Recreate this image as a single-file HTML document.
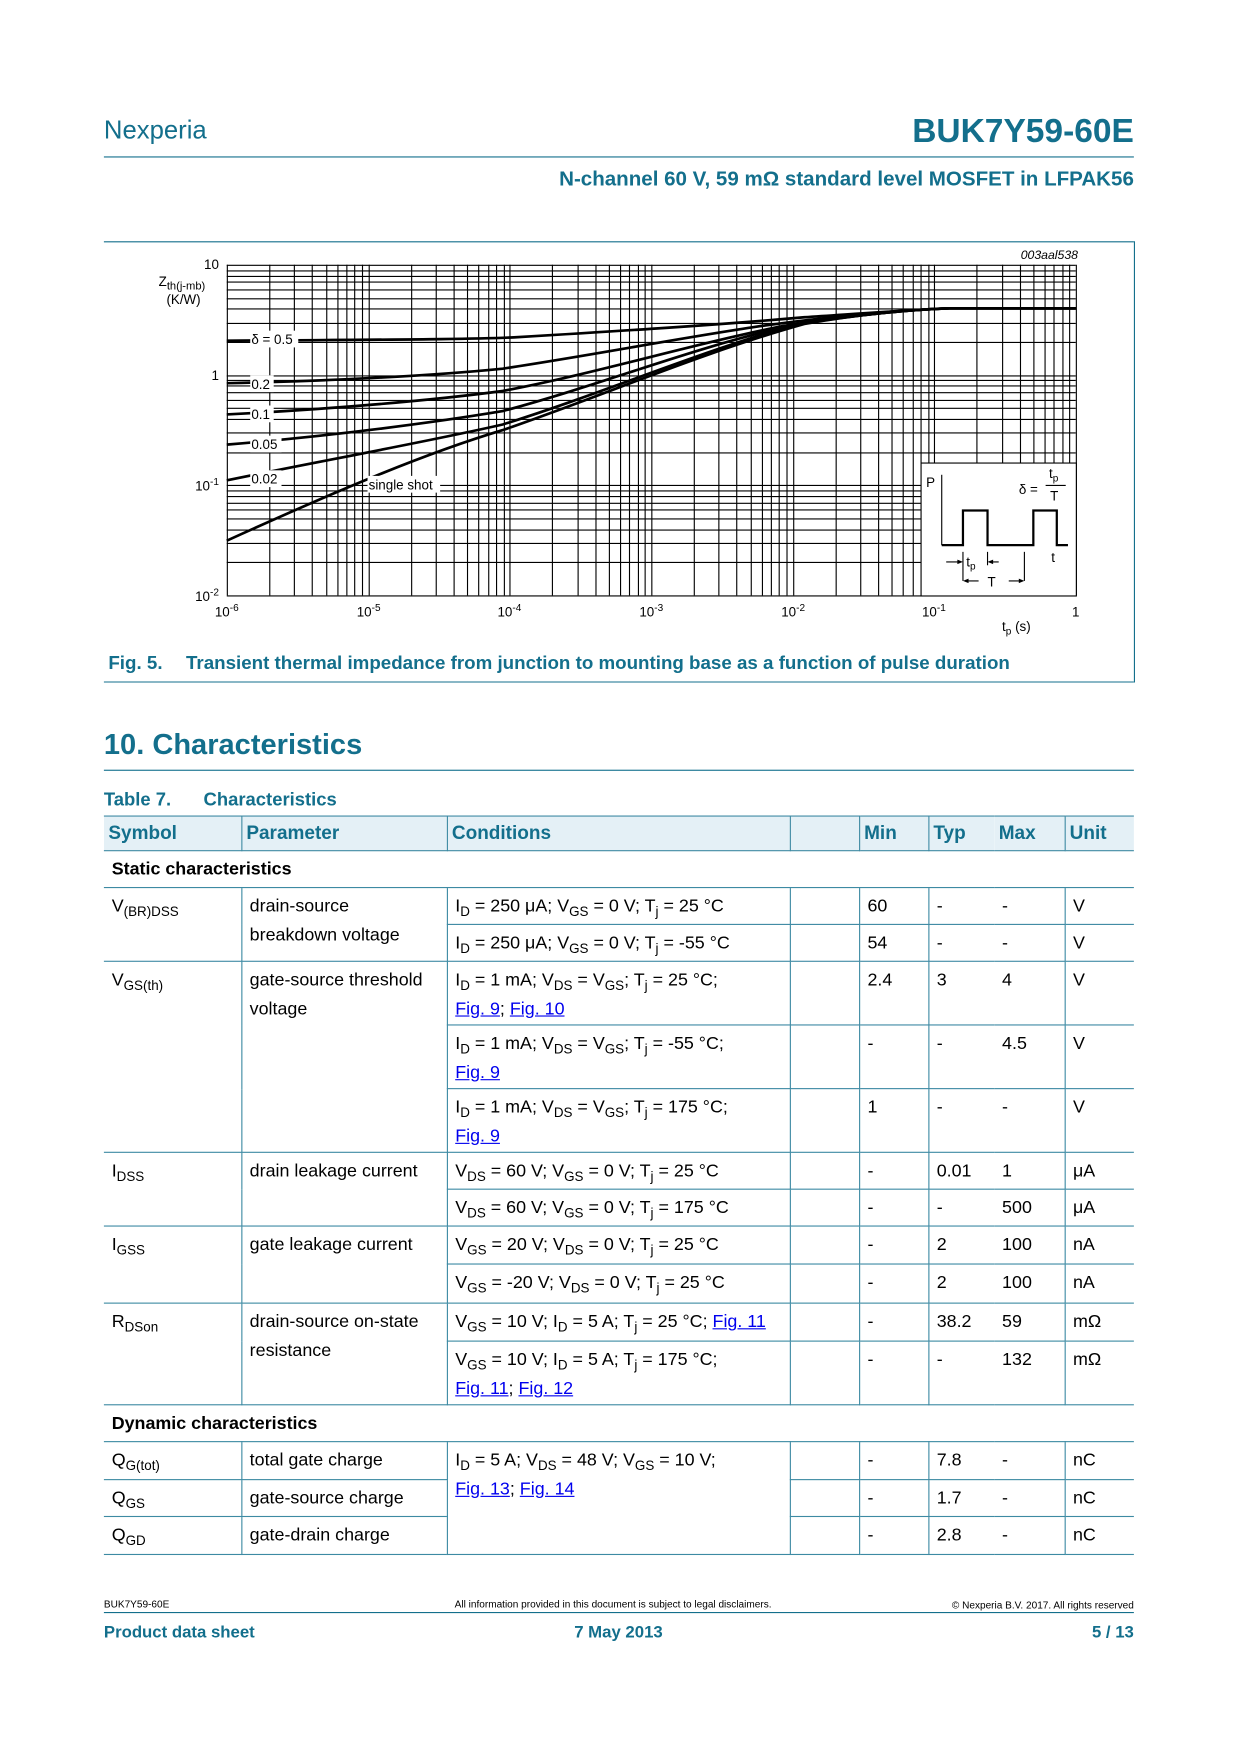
<!DOCTYPE html>
<html><head><meta charset="utf-8"><style>
body{margin:0;background:#fff;}
#pg{position:absolute;left:0;top:0;width:1110px;height:1570px;transform:scale(1.11712);transform-origin:0 0;font-family:"Liberation Sans",sans-serif;color:#000;overflow:hidden}
.a{position:absolute;white-space:nowrap}
.teal{color:#136f8c}
table{position:absolute;left:93px;top:730px;width:922px;border-collapse:collapse;table-layout:fixed;font-size:16px}
td{border:1px solid #3d8aa3;vertical-align:top;padding:4px 0 0 7px;line-height:26px;overflow:hidden}
tr.h td{background:#e4f0f6;color:#136f8c;font-weight:bold;font-size:17px;padding:2px 0 0 4px;border-color:#3d8aa3}
td.nl{border-left:none}td.nr{border-right:none}
a{color:#0000ee;text-decoration:underline}
sub{font-size:12px;vertical-align:-4px;line-height:0}
.sec td{font-weight:bold;border-left:none;border-right:none}
</style></head><body><div id="pg">
<div class="a teal" style="left:93px;top:103px;font-size:23px">Nexperia</div>
<div class="a teal" style="right:95px;top:101px;font-size:30px;font-weight:bold">BUK7Y59-60E</div>
<div class="a" style="left:93px;top:140px;width:922px;height:1px;background:#136f8c"></div>
<div class="a teal" style="right:95px;top:149px;font-size:18.4px;font-weight:bold">N-channel 60 V, 59 mΩ standard level MOSFET in LFPAK56</div>

<svg class="a" style="left:0;top:0" width="1110" height="620" font-family="Liberation Sans, sans-serif">
<line x1="93" y1="216.5" x2="1015" y2="216.5" stroke="#136f8c"/>
<line x1="1015.5" y1="216" x2="1015.5" y2="611" stroke="#136f8c"/>
<line x1="93" y1="610.5" x2="1015" y2="610.5" stroke="#136f8c"/>
<g id="grid" stroke="#000" stroke-width="1"></g>
<g id="curves" fill="none" stroke="#000" stroke-width="2.4"></g>
<g font-size="12" fill="#000">
<text x="965" y="232" text-anchor="end" font-style="italic" font-size="11">003aal538</text>
<text x="196" y="241" text-anchor="end">10</text>
<text x="196" y="340" text-anchor="end">1</text>
<text x="196" y="439" text-anchor="end">10<tspan dy="-5" font-size="9">-1</tspan></text>
<text x="196" y="538" text-anchor="end">10<tspan dy="-5" font-size="9">-2</tspan></text>
<text x="142" y="256">Z<tspan dy="3" font-size="10">th(j-mb)</tspan></text>
<text x="149" y="272">(K/W)</text>
<g text-anchor="middle">
<text x="203" y="552">10<tspan dy="-5" font-size="9">-6</tspan></text>
<text x="330" y="552">10<tspan dy="-5" font-size="9">-5</tspan></text>
<text x="456" y="552">10<tspan dy="-5" font-size="9">-4</tspan></text>
<text x="583" y="552">10<tspan dy="-5" font-size="9">-3</tspan></text>
<text x="710" y="552">10<tspan dy="-5" font-size="9">-2</tspan></text>
<text x="836" y="552">10<tspan dy="-5" font-size="9">-1</tspan></text>
<text x="963" y="552">1</text>
</g>
<text x="897" y="565">t<tspan dy="3" font-size="9">p</tspan><tspan dy="-3"> (s)</tspan></text>
</g>
<g font-size="12">
<rect x="224" y="296" width="43" height="15" fill="#fff"/><text x="225" y="308">δ = 0.5</text>
<rect x="224" y="336" width="21" height="15" fill="#fff"/><text x="225" y="348">0.2</text>
<rect x="224" y="363" width="21" height="15" fill="#fff"/><text x="225" y="375">0.1</text>
<rect x="224" y="390" width="28" height="15" fill="#fff"/><text x="225" y="402">0.05</text>
<rect x="224" y="421" width="28" height="15" fill="#fff"/><text x="225" y="433">0.02</text>
<rect x="329" y="426" width="65" height="15" fill="#fff"/><text x="330" y="438">single shot</text>
</g>
<rect x="824.5" y="414.5" width="139" height="119" fill="#fff" stroke="#000"/>
<g font-size="12" fill="#000">
<text x="829" y="436">P</text>
<text x="912" y="442">δ =</text>
<text x="939" y="428">t<tspan dy="3" font-size="9">p</tspan></text>
<line x1="936" y1="434.5" x2="954" y2="434.5" stroke="#000"/>
<text x="940" y="448">T</text>
<line x1="843" y1="425" x2="843" y2="488" stroke="#000"/>
<polyline points="843,488 862,488 862,457 884,457 884,488 925,488 925,457 946,457 946,488 956,488" fill="none" stroke="#000" stroke-width="2"/>
<text x="941" y="503">t</text>
<text x="865" y="507">t<tspan dy="3" font-size="9">p</tspan></text>
<line x1="862" y1="494" x2="862" y2="520" stroke="#000"/>
<line x1="884" y1="494" x2="884" y2="506" stroke="#000"/>
<line x1="917" y1="494" x2="917" y2="520" stroke="#000"/>
<path d="M847 503h13M894 503h-8M866 520h10M903 520h12" stroke="#000"/>
<path d="M862 503l-5-2v4zM884 503l5-2v4zM862 520l5-2v4zM917 520l-5-2v4z" fill="#000"/>
<text x="884" y="525">T</text>
</g>
</svg>
<div class="a teal" style="left:97px;top:584px;font-size:16.8px;font-weight:bold">Fig. 5.<span style="margin-left:21px">Transient thermal impedance from junction to mounting base as a function of pulse duration</span></div>

<div class="a teal" style="left:93px;top:651px;font-size:26px;font-weight:bold">10. Characteristics</div>
<div class="a" style="left:93px;top:689px;width:922px;height:1px;background:#136f8c"></div>
<div class="a teal" style="left:93px;top:707px;font-size:16.5px;font-weight:bold">Table 7.<span style="margin-left:29px">Characteristics</span></div>

<table>
<colgroup><col style="width:123px"><col style="width:184px"><col style="width:307px"><col style="width:62px"><col style="width:62px"><col style="width:59px"><col style="width:63px"><col style="width:62px"></colgroup>
<tr class="h" style="height:31px"><td class="nl">Symbol</td><td>Parameter</td><td>Conditions</td><td></td><td>Min</td><td class="nr">Typ</td><td class="nl">Max</td><td class="nr">Unit</td></tr>
<tr class="sec" style="height:33px"><td colspan="8">Static characteristics</td></tr>
<tr style="height:33px"><td class="nl" rowspan="2">V<sub>(BR)DSS</sub></td><td rowspan="2">drain-source<br>breakdown voltage</td><td>I<sub>D</sub> = 250 μA; V<sub>GS</sub> = 0 V; T<sub>j</sub> = 25 °C</td><td></td><td>60</td><td class="nr">-</td><td class="nl">-</td><td class="nr">V</td></tr>
<tr style="height:33px"><td>I<sub>D</sub> = 250 μA; V<sub>GS</sub> = 0 V; T<sub>j</sub> = -55 °C</td><td></td><td>54</td><td class="nr">-</td><td class="nl">-</td><td class="nr">V</td></tr>
<tr style="height:57px"><td class="nl" rowspan="3">V<sub>GS(th)</sub></td><td rowspan="3">gate-source threshold voltage</td><td>I<sub>D</sub> = 1 mA; V<sub>DS</sub> = V<sub>GS</sub>; T<sub>j</sub> = 25 °C;<br><a>Fig. 9</a>; <a>Fig. 10</a></td><td></td><td>2.4</td><td class="nr">3</td><td class="nl">4</td><td class="nr">V</td></tr>
<tr style="height:57px"><td>I<sub>D</sub> = 1 mA; V<sub>DS</sub> = V<sub>GS</sub>; T<sub>j</sub> = -55 °C;<br><a>Fig. 9</a></td><td></td><td>-</td><td class="nr">-</td><td class="nl">4.5</td><td class="nr">V</td></tr>
<tr style="height:57px"><td>I<sub>D</sub> = 1 mA; V<sub>DS</sub> = V<sub>GS</sub>; T<sub>j</sub> = 175 °C;<br><a>Fig. 9</a></td><td></td><td>1</td><td class="nr">-</td><td class="nl">-</td><td class="nr">V</td></tr>
<tr style="height:33px"><td class="nl" rowspan="2">I<sub>DSS</sub></td><td rowspan="2">drain leakage current</td><td>V<sub>DS</sub> = 60 V; V<sub>GS</sub> = 0 V; T<sub>j</sub> = 25 °C</td><td></td><td>-</td><td class="nr">0.01</td><td class="nl">1</td><td class="nr">μA</td></tr>
<tr style="height:33px"><td>V<sub>DS</sub> = 60 V; V<sub>GS</sub> = 0 V; T<sub>j</sub> = 175 °C</td><td></td><td>-</td><td class="nr">-</td><td class="nl">500</td><td class="nr">μA</td></tr>
<tr style="height:34px"><td class="nl" rowspan="2">I<sub>GSS</sub></td><td rowspan="2">gate leakage current</td><td>V<sub>GS</sub> = 20 V; V<sub>DS</sub> = 0 V; T<sub>j</sub> = 25 °C</td><td></td><td>-</td><td class="nr">2</td><td class="nl">100</td><td class="nr">nA</td></tr>
<tr style="height:35px"><td>V<sub>GS</sub> = -20 V; V<sub>DS</sub> = 0 V; T<sub>j</sub> = 25 °C</td><td></td><td>-</td><td class="nr">2</td><td class="nl">100</td><td class="nr">nA</td></tr>
<tr style="height:34px"><td class="nl" rowspan="2">R<sub>DSon</sub></td><td rowspan="2">drain-source on-state resistance</td><td>V<sub>GS</sub> = 10 V; I<sub>D</sub> = 5 A; T<sub>j</sub> = 25 °C; <a>Fig. 11</a></td><td></td><td>-</td><td class="nr">38.2</td><td class="nl">59</td><td class="nr">mΩ</td></tr>
<tr style="height:57px"><td>V<sub>GS</sub> = 10 V; I<sub>D</sub> = 5 A; T<sub>j</sub> = 175 °C;<br><a>Fig. 11</a>; <a>Fig. 12</a></td><td></td><td>-</td><td class="nr">-</td><td class="nl">132</td><td class="nr">mΩ</td></tr>
<tr class="sec" style="height:33px"><td colspan="8">Dynamic characteristics</td></tr>
<tr style="height:34px"><td class="nl">Q<sub>G(tot)</sub></td><td>total gate charge</td><td rowspan="3">I<sub>D</sub> = 5 A; V<sub>DS</sub> = 48 V; V<sub>GS</sub> = 10 V;<br><a>Fig. 13</a>; <a>Fig. 14</a></td><td></td><td>-</td><td class="nr">7.8</td><td class="nl">-</td><td class="nr">nC</td></tr>
<tr style="height:33px"><td class="nl">Q<sub>GS</sub></td><td>gate-source charge</td><td></td><td>-</td><td class="nr">1.7</td><td class="nl">-</td><td class="nr">nC</td></tr>
<tr style="height:34px"><td class="nl">Q<sub>GD</sub></td><td>gate-drain charge</td><td></td><td>-</td><td class="nr">2.8</td><td class="nl">-</td><td class="nr">nC</td></tr>
</table>

<div class="a" style="left:93px;top:1431px;font-size:9px">BUK7Y59-60E</div>
<div class="a" style="left:407px;top:1431px;font-size:9px">All information provided in this document is subject to legal disclaimers.</div>
<div class="a" style="right:95px;top:1432px;font-size:9px">© Nexperia B.V. 2017. All rights reserved</div>
<div class="a" style="left:93px;top:1443px;width:922px;height:1px;background:#136f8c"></div>
<div class="a teal" style="left:93px;top:1453px;font-size:15px;font-weight:bold">Product data sheet</div>
<div class="a teal" style="left:514px;top:1453px;font-size:15px;font-weight:bold">7 May 2013</div>
<div class="a teal" style="right:95px;top:1453px;font-size:15px;font-weight:bold">5 / 13</div>
</div>
<script>
var NS="http://www.w3.org/2000/svg";
var X0=203,X1=963,DW=(X1-X0)/6,Y0=237,DH=(533-237)/3;
var g=document.getElementById("grid");
function ln(x1,y1,x2,y2){var l=document.createElementNS(NS,"line");l.setAttribute("x1",x1);l.setAttribute("y1",y1);l.setAttribute("x2",x2);l.setAttribute("y2",y2);g.appendChild(l);}
for(var d=0;d<6;d++)for(var k=1;k<10;k++){var x=Math.round(X0+(d+Math.log10(k))*DW)+0.5;ln(x,Y0,x,533);}
ln(X1+0.5,Y0,X1+0.5,533);
for(var d=0;d<3;d++)for(var k=1;k<10;k++){var y=Math.round(533-(d+Math.log10(k))*DH)+0.5;ln(X0,y,X1,y);}
ln(X0,Y0+0.5,X1,Y0+0.5);
var c=document.getElementById("curves");
var C=[
"M203,305 C330,304 420,304 460,302 C560,296 640,291 720,284 C780,280 820,277 850,276 L963,276",
"M203,343 C300,341 390,336 450,330 C530,318 600,304 680,292 C760,281 820,277 850,276 L963,276",
"M203,371 C300,366 390,358 450,350 C530,335 620,308 700,292 C770,281 820,277 850,276 L963,276",
"M203,398 C300,390 390,378 450,368 C540,344 620,311 710,291 C770,281 820,277 850,276 L963,276",
"M203,430 C280,414 380,396 450,380 C540,352 630,313 715,290 C770,281 820,277 850,276 L963,276",
"M203,484 C300,440 380,406 450,385 C540,354 630,315 720,290 C770,281 820,277 850,276 L963,276"];
C.forEach(function(d){var p=document.createElementNS(NS,"path");p.setAttribute("d",d);c.appendChild(p);});
</script>
</body></html>
